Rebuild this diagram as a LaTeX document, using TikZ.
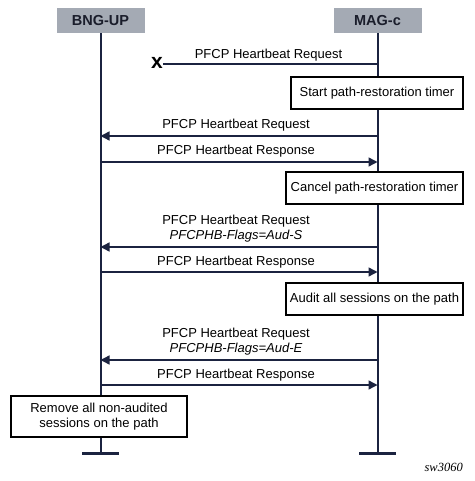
\documentclass[tikz,border=0pt]{standalone}
\usepackage{fontspec}
\setmainfont{Liberation Sans}
\newfontfamily\serifit{Liberation Serif}
\usetikzlibrary{arrows.meta}
\definecolor{navy}{HTML}{1B2340}
\definecolor{hdrgray}{HTML}{A4AAB4}
\definecolor{hdrtext}{HTML}{1A1D2B}
\tikzset{
  hdr/.style={fill=hdrgray, draw=none, minimum width=88pt, minimum height=25pt, inner sep=0pt,
    font=\fontsize{14.5}{16}\selectfont\bfseries, text=hdrtext},
  life/.style={draw=navy, line width=2pt},
  msg/.style={draw=navy, line width=1.4pt, -{Triangle[length=9pt,width=9pt]}},
  lostmsg/.style={draw=navy, line width=1.4pt},
  lbl/.style={font=\fontsize{13}{15}\selectfont, text=black, inner sep=0pt, align=center},
  actbox/.style={draw=black, fill=white, line width=1.6pt, inner sep=0pt, align=center,
    font=\fontsize{13}{15}\selectfont},
  endbar/.style={fill=navy, draw=none, minimum width=37pt, minimum height=3pt, inner sep=0pt},
}
\begin{document}
\begin{tikzpicture}[x=1pt,y=-1pt]
\useasboundingbox (0,0) rectangle (474,481);
% headers
\node[hdr] (bng) at (100.5,20.5) {BNG-UP};
\node[hdr] (mag) at (377.5,20.5) {MAG-c};
% end bars
\node[endbar] (bngbar) at (100.5,453) {};
\node[endbar] (magbar) at (377.5,453) {};
% lifelines
\draw[life] (bng.south) -- (bngbar.center);
\draw[life] (mag.south) -- (magbar.center);
% message 1 (lost)
\coordinate (m1s) at (377.5,64);
\node[inner sep=0pt, font=\fontsize{21}{21}\selectfont\bfseries] (lost) at (157,62.5) {x};
\draw[lostmsg] (m1s) -- (lost.east |- m1s);
\node[lbl] (l1) at (268.5,55.5) {PFCP Heartbeat Request};
% box 1
\node[actbox, minimum width=172pt, minimum height=32pt] (b1) at (377,93) {Start path-restoration timer};
% message 2
\coordinate (m2s) at (377.5,136);
\coordinate (m2e) at (100.5,136);
\draw[msg] (m2s) -- (m2e);
\node[lbl] (l2) at (236,125.5) {PFCP Heartbeat Request};
% message 3
\coordinate (m3s) at (100.5,162);
\coordinate (m3e) at (377.5,162);
\draw[msg] (m3s) -- (m3e);
\node[lbl] (l3) at (236,151) {PFCP Heartbeat Response};
% box 2
\node[actbox, minimum width=177pt, minimum height=32pt] (b2) at (374.5,188) {Cancel path-restoration timer};
% message 4
\coordinate (m4s) at (377.5,247);
\coordinate (m4e) at (100.5,247);
\draw[msg] (m4s) -- (m4e);
\node[lbl] (l4) at (236,228.5) {PFCP Heartbeat Request\\\itshape PFCPHB-Flags=Aud-S};
% message 5
\coordinate (m5s) at (100.5,272);
\coordinate (m5e) at (377.5,272);
\draw[msg] (m5s) -- (m5e);
\node[lbl] (l5) at (236,262) {PFCP Heartbeat Response};
% box 3
\node[actbox, minimum width=177pt, minimum height=32pt] (b3) at (374.5,299) {Audit all sessions on the path};
% message 6
\coordinate (m6s) at (377.5,360);
\coordinate (m6e) at (100.5,360);
\draw[msg] (m6s) -- (m6e);
\node[lbl] (l6) at (236,341.5) {PFCP Heartbeat Request\\\itshape PFCPHB-Flags=Aud-E};
% message 7
\coordinate (m7s) at (100.5,385);
\coordinate (m7e) at (377.5,385);
\draw[msg] (m7s) -- (m7e);
\node[lbl] (l7) at (236,375) {PFCP Heartbeat Response};
% box 4
\node[actbox, minimum width=176pt, minimum height=41pt] (b4) at (99,416.5) {Remove all non-audited\\sessions on the path};
% figure id
\node[anchor=east, inner sep=0pt, font=\serifit\itshape\fontsize{12.5}{14}\selectfont] (sw) at (463,467) {sw3060};
\end{tikzpicture}
\end{document}
